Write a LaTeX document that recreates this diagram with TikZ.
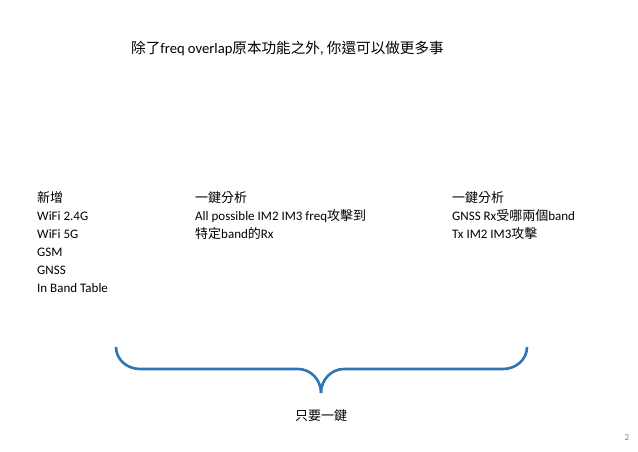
\documentclass[tikz,border=0pt]{standalone}
\usepackage{fontspec}
\setmainfont{Carlito}
\newfontfamily\cjk{Noto Sans CJK TC}
\newcommand{\zh}[1]{{\cjk #1}}
\definecolor{bracecol}{HTML}{2E75B6}
\begin{document}
\begin{tikzpicture}[x=1pt,y=-1pt,
  txt/.style={anchor=north west,inner sep=0pt,font=\fontsize{13}{18}\selectfont,align=left,text=black},
  brace/.style={draw=bracecol,line width=2.6pt}]
\useasboundingbox[fill=white] (0,0) rectangle (638,451);
\node[txt,font=\fontsize{14.6}{18}\selectfont] (title) at (131,41) {\zh{除了}freq overlap\zh{原本功能之外}, \zh{你還可以做更多事}};
\node[txt] (left) at (37,191) {\zh{新增}\\WiFi 2.4G\\WiFi 5G\\GSM\\GNSS\\In Band Table};
\node[txt] (mid) at (195,191) {\zh{一鍵分析}\\All possible IM2 IM3 freq\zh{攻擊到}\\\zh{特定}band\zh{的}Rx};
\node[txt] (right) at (452,191) {\zh{一鍵分析}\\GNSS Rx\zh{受哪兩個}band\\Tx IM2 IM3\zh{攻擊}};
\coordinate (bl) at (116,347);
\coordinate (br) at (527,347);
\coordinate (tip) at (321,393);
\draw[brace] (bl) to[out=-90,in=180] (140,369) -- (298,369) to[out=0,in=90] (tip);
\draw[brace] (br) to[out=-90,in=0] (503,369) -- (344,369) to[out=180,in=90] (tip);
\node[txt,anchor=north] (one) at (321,409) {\zh{只要一鍵}};
\node[inner sep=0pt,font=\fontsize{9}{10}\selectfont,text=gray] (pg) at (627,438) {2};
\end{tikzpicture}
\end{document}
